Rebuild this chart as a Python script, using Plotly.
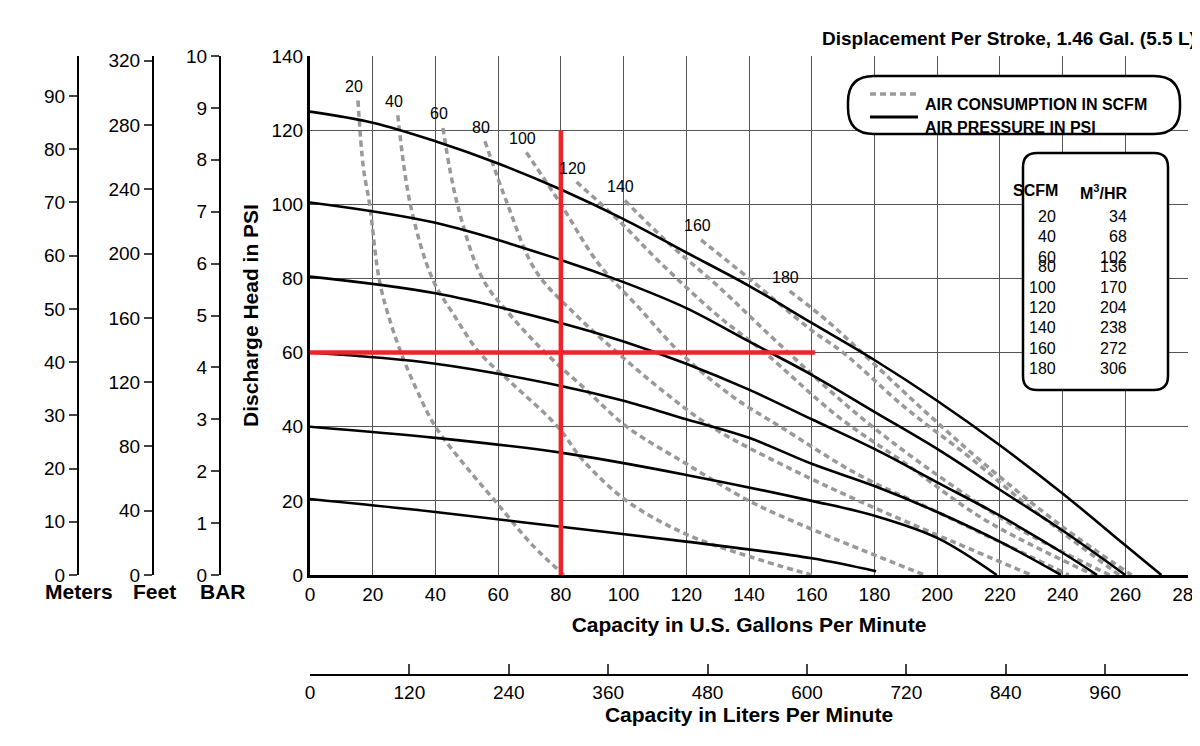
import plotly.graph_objects as go

W, H = 1200, 746
def px(x): return x / W
def py(y): return 1 - y / H

FONT = "Liberation Sans, Arial"

# Air pressure curves (PSI): gpm, psi
pressure = {
    125: ([0, 20, 40, 60, 80, 100, 120, 140, 160, 180, 200, 220, 240, 260, 271.5],
          [125, 122, 117, 111, 104, 96, 87, 78, 68, 58, 47, 35, 22, 8, 0]),
    100: ([0, 40, 80, 100, 120, 140, 160, 180, 200, 220, 240, 260],
          [100.5, 95, 85, 79, 72, 63, 54, 44, 34, 23, 12, 0]),
    80: ([0, 40, 80, 100, 120, 140, 160, 180, 200, 220, 240, 251],
         [80.5, 76, 68, 63, 57, 50, 42, 34, 25, 16, 6, 0]),
    60: ([0, 40, 80, 100, 120, 140, 160, 180, 200, 220, 239.5],
         [60, 57, 51, 47, 42, 37, 30, 24, 17, 9, 0]),
    40: ([0, 40, 80, 120, 160, 180, 200, 219],
         [40, 37, 33, 27, 20, 16, 10, 0]),
    20: ([0, 40, 80, 120, 160, 180.5],
         [20.5, 17, 13, 9, 4.5, 1]),
}

# Air consumption curves (SCFM): gpm, psi
scfm = {
    20: ([15.3, 17, 19, 22, 25, 29, 34, 40, 49, 59, 71, 81],
         [128, 110, 100, 80, 70, 60, 50, 40, 30, 20, 8, 0]),
    40: ([28, 32, 39, 46, 54, 64, 79, 87, 101, 120, 140, 160],
         [124, 100, 80, 70, 60, 52, 40, 31, 20, 11, 5, 0]),
    60: ([42.4, 47, 55, 64, 75, 88, 101, 120, 140, 161, 196],
         [120.6, 100, 80, 70, 60, 50, 40, 30, 20, 12, 0]),
    80: ([55.8, 63, 72, 85, 98, 112, 128, 150, 175, 205, 230],
         [117, 100, 82, 70, 60, 50, 40, 30, 20, 9, 0]),
    100: ([69, 80, 92, 105, 118, 135, 150, 175, 200, 242],
          [114, 100, 84, 72, 60, 48, 40, 27, 17, 0]),
    120: ([85, 98, 112, 130, 145, 168, 190, 215, 250],
          [106, 96, 84, 70, 60, 43, 30, 15, 0]),
    140: ([100.4, 115, 130, 150, 175, 200, 225, 255],
          [101, 89, 78, 62, 43, 27, 13, 0]),
    160: ([124.7, 140, 160, 170, 190, 210, 230, 258],
          [90.4, 80, 66, 60, 45, 32, 18, 0]),
    180: ([153, 165, 176, 195, 215, 240, 262],
          [76.6, 68.5, 60, 45, 30, 13, 0]),
}

red_v_x, red_v_y = [80, 80], [0, 120]
red_h_x, red_h_y = [0, 161], [60, 60]

table_scfm = [20, 40, 60, 80, 100, 120, 140, 160, 180]
table_m3hr = [34, 68, 102, 136, 170, 204, 238, 272, 306]

meters_ticks = list(range(0, 100, 10))
feet_ticks = list(range(0, 321, 40))
bar_ticks = list(range(0, 11))
lpm_ticks = list(range(0, 961, 120))

DASH = "6px,4px"
fig = go.Figure()
for k, (xs, ys) in scfm.items():
    fig.add_trace(go.Scatter(x=xs, y=ys, mode="lines", line=dict(color="#999999", width=3.5, dash=DASH, shape="spline"),
                             hoverinfo="skip", showlegend=False))
for k, (xs, ys) in pressure.items():
    fig.add_trace(go.Scatter(x=xs, y=ys, mode="lines", line=dict(color="black", width=2.6, shape="spline"),
                             hoverinfo="skip", showlegend=False))
fig.add_trace(go.Scatter(x=red_v_x, y=red_v_y, mode="lines", line=dict(color="#ee2428", width=4.5), showlegend=False))
fig.add_trace(go.Scatter(x=red_h_x, y=red_h_y, mode="lines", line=dict(color="#ee2428", width=4.5), showlegend=False))

fig.add_trace(go.Scatter(x=[0], y=[0], xaxis="x2", mode="markers", marker=dict(opacity=0), showlegend=False))
for ax in ["y2", "y3", "y4"]:
    fig.add_trace(go.Scatter(x=[0], y=[0], yaxis=ax, mode="markers", marker=dict(opacity=0), showlegend=False))

ann = []
for k, (xs, ys) in scfm.items():
    ann.append(dict(x=xs[0], y=ys[0], text=str(k), showarrow=False, yshift=14, xshift=-4,
                    font=dict(size=16, family=FONT, color="black")))

y_dom = [py(567), py(48)]
tickfont = dict(size=19, family=FONT, color="black")
titlefont = dict(size=21, family=FONT, color="black")
common_y = dict(showgrid=False, showline=True, linecolor="black", linewidth=2, ticks="outside",
                ticklen=8, tickwidth=2, tickfont=tickfont, side="left", zeroline=False, automargin=False,
                anchor="free", overlaying="y")
fig.update_layout(
    width=W, height=H, margin=dict(l=0, r=0, t=0, b=0, autoexpand=False),
    paper_bgcolor="white", plot_bgcolor="white",
    xaxis=dict(domain=[px(302), px(1180)], range=[0, 280], dtick=20, showgrid=True, gridcolor="#555", gridwidth=1,
               showline=True, linecolor="black", linewidth=3, zeroline=False, tickfont=tickfont, automargin=False,
               ticks="", title=dict(text="<b>Capacity in U.S. Gallons Per Minute</b>", font=titlefont, standoff=14)),
    yaxis=dict(domain=y_dom, range=[0, 140], dtick=20, showgrid=True, gridcolor="#555", gridwidth=1, automargin=False,
               showline=True, linecolor="black", linewidth=3, zeroline=False, tickfont=tickfont, ticks="",
               title=dict(text="<b>Discharge Head in PSI</b>", font=titlefont, standoff=8)),
    xaxis2=dict(domain=[px(302), px(1180)], range=[0, 1060], anchor="free", position=py(667), overlaying="x",
                tickvals=lpm_ticks, showgrid=False, showline=True, linecolor="black", linewidth=2, ticks="inside",
                ticklen=10, tickwidth=2, tickfont=tickfont, zeroline=False, automargin=False,
                title=dict(text="<b>Capacity in Liters Per Minute</b>", font=titlefont, standoff=4)),
    yaxis2=dict(domain=[py(567), py(48)], range=[0, 97.5], position=px(70), tickvals=meters_ticks, **common_y),
    yaxis3=dict(domain=[py(567), py(48)], range=[0, 323], position=px(145), tickvals=feet_ticks, **common_y),
    yaxis4=dict(domain=[py(567), py(38)], range=[0, 10], position=px(212), tickvals=bar_ticks, **common_y),
)

for t, x in [("Meters", 35), ("Feet", 123), ("BAR", 190)]:
    ann.append(dict(xref="paper", yref="paper", x=px(x), y=py(597), text=f"<b>{t}</b>", showarrow=False, font=titlefont))
ann.append(dict(xref="paper", yref="paper", x=px(1190), y=py(18), xanchor="right",
                text="<b>Displacement Per Stroke, 1.46 Gal. (5.5 L)</b>", showarrow=False, font=dict(size=19, family=FONT, color="black")))

def rrect(x0, y0, x1, y1, r):
    X0, X1 = px(x0), px(x1)
    Y0, Y1 = py(y0), py(y1)
    rx, ry = r / W, r / H
    return (f"M {X0+rx},{Y0} L {X1-rx},{Y0} Q {X1},{Y0} {X1},{Y0-ry} L {X1},{Y1+ry} Q {X1},{Y1} {X1-rx},{Y1} "
            f"L {X0+rx},{Y1} Q {X0},{Y1} {X0},{Y1+ry} L {X0},{Y0-ry} Q {X0},{Y0} {X0+rx},{Y0} Z")

shapes = [
    dict(type="path", xref="paper", yref="paper", path=rrect(840, 68, 1172, 126, 26),
         line=dict(color="black", width=2.5), fillcolor="white", layer="above"),
    dict(type="path", xref="paper", yref="paper", path=rrect(1015, 145, 1160, 382, 14),
         line=dict(color="black", width=2.5), fillcolor="white", layer="above"),
    dict(type="line", xref="paper", yref="paper", x0=px(862), x1=px(910), y0=py(86), y1=py(86),
         line=dict(color="#999999", width=3.5, dash=DASH), layer="above"),
    dict(type="line", xref="paper", yref="paper", x0=px(862), x1=px(910), y0=py(109), y1=py(109),
         line=dict(color="black", width=3), layer="above"),
]
sm = dict(size=16, family=FONT, color="black")
ann.append(dict(xref="paper", yref="paper", x=px(915), y=py(86), xanchor="left", text="<b>AIR CONSUMPTION IN SCFM</b>",
                showarrow=False, font=sm))
ann.append(dict(xref="paper", yref="paper", x=px(915), y=py(109), xanchor="left", text="<b>AIR PRESSURE IN PSI</b>",
                showarrow=False, font=sm))
ann.append(dict(xref="paper", yref="paper", x=px(1052), y=py(172), text="<b>SCFM</b>", showarrow=False, font=sm))
ann.append(dict(xref="paper", yref="paper", x=px(1122), y=py(172), text="<b>M<sup>3</sup>/HR</b>", showarrow=False, font=sm))
for i, (a, b) in enumerate(zip(table_scfm, table_m3hr)):
    yy = py(198 + i * 20.3)
    ann.append(dict(xref="paper", yref="paper", x=px(1050), y=yy, text=str(a), showarrow=False, font=sm))
    ann.append(dict(xref="paper", yref="paper", x=px(1121), y=yy, text=str(b), showarrow=False, font=sm))

fig.update_layout(annotations=ann, shapes=shapes)
fig.write_html("out.html")
